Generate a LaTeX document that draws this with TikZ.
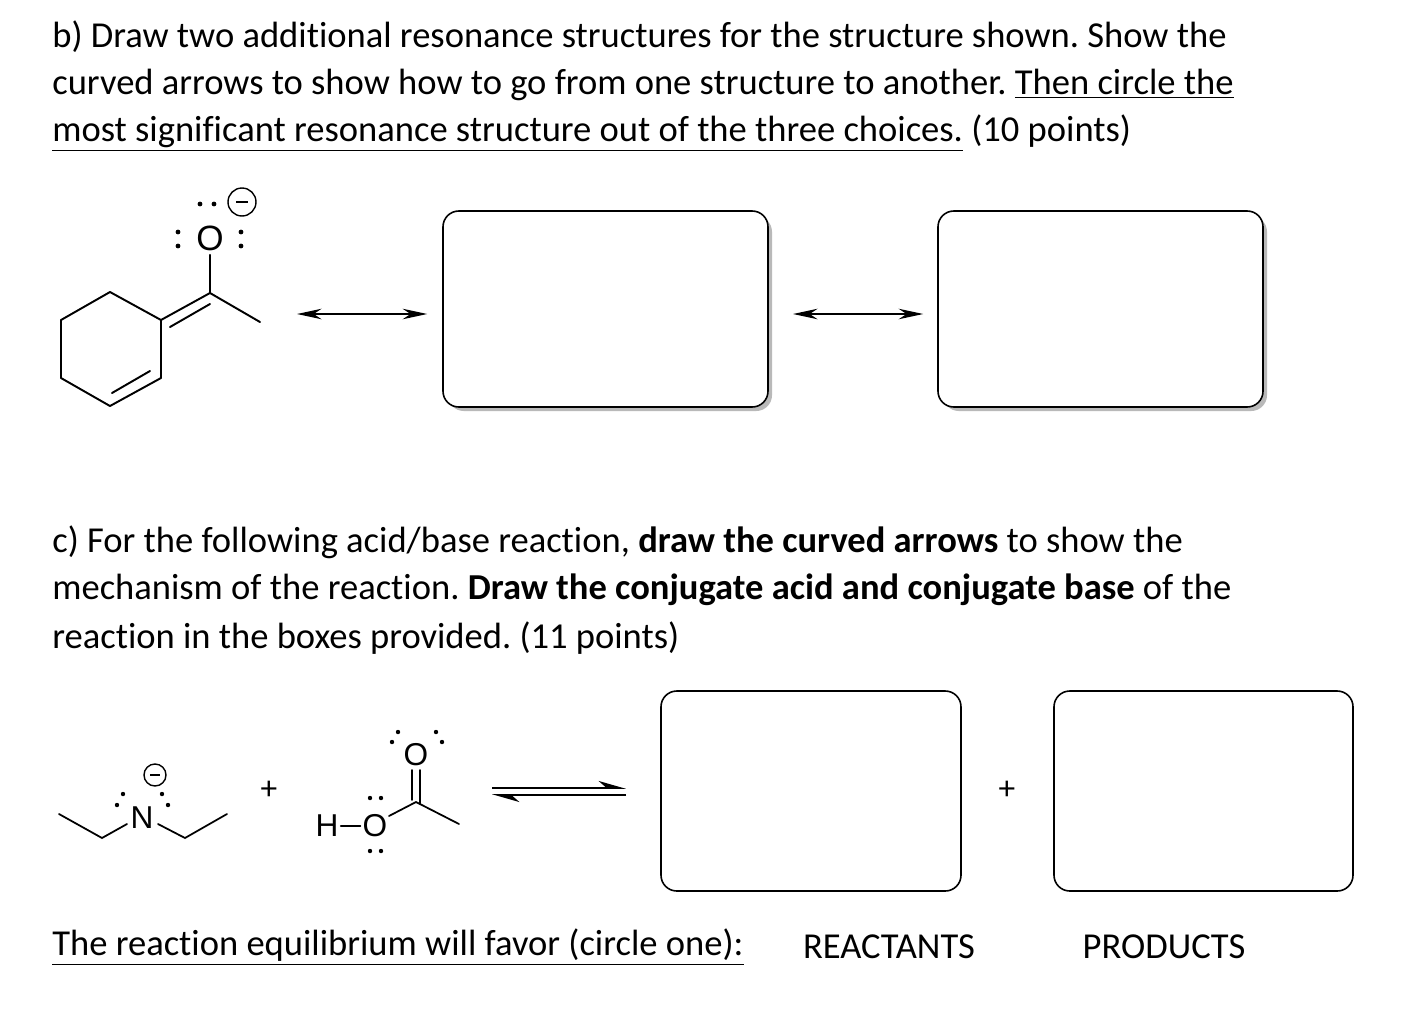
\documentclass[tikz,border=0pt]{standalone}
\usepackage{fontspec}
\setmainfont[RawFeature={-liga;-dlig}]{Carlito}
\newfontfamily\chemf{Liberation Sans}
\usetikzlibrary{arrows.meta}
\frenchspacing
\begin{document}
\begin{tikzpicture}[x=0.02cm,y=-0.02cm,
  txt/.style={anchor=west,inner sep=0,font=\fontsize{20.8}{25}\selectfont},
  bnd/.style={line width=1.1pt,line cap=round},
  dot/.style={fill=black,radius=2.4},
  atomb/.style={font=\chemf\fontsize{20}{20}\selectfont,inner sep=0},
  atomc/.style={font=\chemf\fontsize{18}{18}\selectfont,inner sep=0},
  ansbox/.style={draw,line width=0.9pt,rounded corners=9},
  resarr/.style={line width=0.8pt,{Stealth[length=14pt,width=6pt]}-{Stealth[length=14pt,width=6pt]}}]
\useasboundingbox[fill=white] (0,0) rectangle (1410,1008);
% part b text
\node[txt] (b1) at (52,37) {b) Draw two additional resonance structures for the structure shown. Show the};
\node[txt] (b2) at (52,85) {curved arrows to show how to go from one structure to another. \underline{Then circle the}};
\node[txt] (b3) at (52,133) {\underline{most significant resonance structure out of the three choices.} (10 points)};
% structure 1
\node[atomb] (O1) at (210,238) {O};
\coordinate (c1) at (210,293); \coordinate (me) at (260,322);
\coordinate (r1) at (161,320); \coordinate (r2) at (110,292); \coordinate (r3) at (61,320);
\coordinate (r4) at (61,378); \coordinate (r5) at (110,406); \coordinate (r6) at (161,378);
\draw[bnd] (O1.south) ++(0,4) -- (c1) -- (me);
\draw[bnd] (c1) -- (r1);
\draw[bnd,line join=round] (r1) -- (r2) -- (r3) -- (r4) -- (r5) -- (r6) -- cycle;
\draw[bnd] (210,304) -- (170,327);
\draw[bnd] (150,371) -- (112,393);
\fill (178,232) circle[dot]; \fill (178,246) circle[dot];
\fill (241,232) circle[dot]; \fill (241,246) circle[dot];
\fill (200,204) circle[dot]; \fill (214,204) circle[dot];
\node[draw,circle,line width=0.8pt,minimum size=28*0.02cm,inner sep=0] (m1) at (242,202) {};
\draw[line width=0.9pt] (236,202) -- (248,202);
% boxes b
\fill[gray!55,rounded corners=9] (448,216) rectangle (772,411);
\node[ansbox,fill=white,minimum width=325*0.02cm,minimum height=196*0.02cm] (B1) at (605.5,309) {};
\fill[gray!55,rounded corners=9] (943,216) rectangle (1267,411);
\node[ansbox,fill=white,minimum width=325*0.02cm,minimum height=196*0.02cm] (B2) at (1100.5,309) {};
\coordinate (a1s) at (297,314); \coordinate (a2s) at (793,314);
\draw[resarr] (a1s) -- ([xshift=-15*0.02cm]B1.west |- a1s);
\draw[resarr] (a2s) -- ([xshift=-14*0.02cm]B2.west |- a2s);
% part c text
\node[txt] (c1t) at (52,542) {c) For the following acid/base reaction, \textbf{draw the curved arrows} to show the};
\node[txt] (c2t) at (52,590) {mechanism of the reaction. \textbf{Draw the conjugate acid and conjugate base} of the};
\node[txt] (c3t) at (52,638) {reaction in the boxes provided. (11 points)};
% amide
\node[atomc] (N) at (142,818) {N};
\draw[bnd,line width=1pt] (59,814) -- (102,838) -- (127,824);
\draw[bnd,line width=1pt] (158,824) -- (185,838) -- (227,814);
\fill (123,794) circle[radius=2.2]; \fill (117,805) circle[radius=2.2];
\fill (162,794) circle[radius=2.2]; \fill (168,805) circle[radius=2.2];
\node[draw,circle,line width=0.8pt,minimum size=22*0.02cm,inner sep=0] (m2) at (155,775) {};
\draw[line width=0.9pt] (150,775) -- (160,775);
\node[font=\fontsize{19}{19}\selectfont,inner sep=0] (p1) at (269,790) {+};
% acetic acid
\node[atomc] (H) at (327,826) {H};
\node[atomc] (O2) at (375,826) {O};
\node[atomc] (O3) at (416,755) {O};
\coordinate (ac) at (416,802); \coordinate (am) at (459,824);
\draw[bnd,line width=1pt] (H.east) ++(2,0) -- ([xshift=-2*0.02cm]O2.west);
\draw[bnd,line width=1pt] (389,816) -- (ac) -- (am);
\draw[bnd,line width=1pt] (412,770) -- (412,800);
\draw[bnd,line width=1pt] (420,770) -- (420,804);
\fill (370,798) circle[radius=2.2]; \fill (381,798) circle[radius=2.2];
\fill (370,851) circle[radius=2.2]; \fill (381,851) circle[radius=2.2];
\fill (392,742) circle[radius=2.2]; \fill (398,732) circle[radius=2.2];
\fill (436,732) circle[radius=2.2]; \fill (442,742) circle[radius=2.2];
% equilibrium arrows
\coordinate (e1) at (492,788); \coordinate (e2) at (626,788);
\coordinate (e3) at (492,795); \coordinate (e4) at (626,795);
\draw[line width=0.9pt,-{Stealth[left,length=14pt,width=8pt]}] (e1) -- (e2);
\draw[line width=0.9pt,-{Stealth[left,length=14pt,width=8pt]}] (e4) -- (e3);
% boxes c
\node[ansbox,minimum width=300*0.02cm,minimum height=200*0.02cm] (B3) at (811,791) {};
\node[ansbox,minimum width=299*0.02cm,minimum height=200*0.02cm] (B4) at (1203.5,791) {};
\node[font=\fontsize{19}{19}\selectfont,inner sep=0] (p2) at (1007,790) {+};
% bottom line
\node[txt] (fav) at (52,947) {\underline{The reaction equilibrium will favor (circle one):}};
\node[txt,anchor=center] (rea) at (889,947) {REACTANTS};
\node[txt,anchor=center] (pro) at (1164,947) {PRODUCTS};
\end{tikzpicture}
\end{document}
